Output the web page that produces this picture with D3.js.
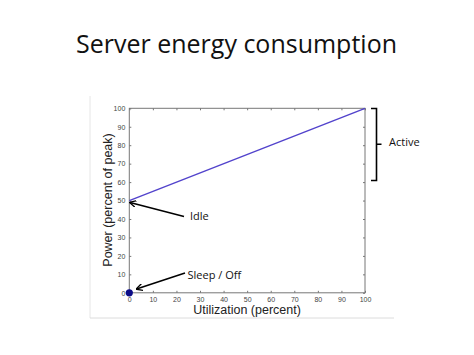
<!DOCTYPE html>
<html><head><meta charset="utf-8">
<script src="https://cdn.jsdelivr.net/npm/d3@7"></script>
<style>html,body{margin:0;padding:0;background:#fff;}</style>
</head><body>
<svg id="c" width="474" height="355"></svg>
<script>
const lineX = [0, 100];
const lineY = [50, 100];
const sleepPoint = [{x: 0, y: 0}];
const xTicks = [0,10,20,30,40,50,60,70,80,90,100];
const yTicks = [0,10,20,30,40,50,60,70,80,90,100];
const titleText = "Server energy consumption";
const xLabel = "Utilization (percent)";
const yLabel = "Power (percent of peak)";

const svg = d3.select("#c");
const L = 129.3, R = 365, T = 108.3, B = 292.8;
const x = d3.scaleLinear().domain([0,100]).range([L,R]);
const y = d3.scaleLinear().domain([0,100]).range([B,T]);

// faint slide frame
svg.append("line").attr("x1",90).attr("x2",90).attr("y1",96).attr("y2",318).attr("stroke","#e6e6e6").attr("stroke-width",1);
svg.append("line").attr("x1",90).attr("x2",394).attr("y1",318).attr("y2",318).attr("stroke","#dcdcdc").attr("stroke-width",1);

// title
svg.append("text").attr("x",76).attr("y",53).attr("font-family","Open Sans").attr("font-size",26)
  .attr("textLength",321).attr("lengthAdjust","spacingAndGlyphs").attr("fill","#111").text(titleText);

// box
svg.append("rect").attr("x",L).attr("y",T).attr("width",R-L).attr("height",B-T)
  .attr("fill","none").attr("stroke","#777").attr("stroke-width",1);

const tickStyle = g => { g.select(".domain").remove(); g.selectAll("line").attr("stroke","#777");
  g.selectAll("text").attr("fill","#444").attr("font-family","Liberation Sans").attr("font-size",7); };
svg.append("g").attr("transform",`translate(0,${B})`).call(d3.axisBottom(x).tickValues(xTicks).tickSizeInner(-2).tickSizeOuter(0).tickPadding(4)).call(tickStyle);
svg.append("g").attr("transform",`translate(0,${T})`).call(d3.axisTop(x).tickValues(xTicks).tickSizeInner(-2).tickSizeOuter(0).tickFormat("")).call(tickStyle);
svg.append("g").attr("transform",`translate(${L},0)`).call(d3.axisLeft(y).tickValues(yTicks).tickSizeInner(-2).tickSizeOuter(0).tickPadding(4)).call(tickStyle);
svg.append("g").attr("transform",`translate(${R},0)`).call(d3.axisRight(y).tickValues(yTicks).tickSizeInner(-2).tickSizeOuter(0).tickFormat("")).call(tickStyle);

// axis labels
svg.append("text").attr("x",247).attr("y",313.5).attr("text-anchor","middle").attr("font-family","Liberation Sans")
  .attr("font-size",12.5).attr("fill","#222").text(xLabel);
svg.append("text").attr("transform","translate(111.5,200) rotate(-90)").attr("text-anchor","middle").attr("font-family","Liberation Sans")
  .attr("font-size",12.5).attr("fill","#222").text(yLabel);

// line
svg.append("path").datum(lineX.map((d,i)=>[d,lineY[i]]))
  .attr("d", d3.line().x(d=>x(d[0])).y(d=>y(d[1])))
  .attr("fill","none").attr("stroke","#5243cc").attr("stroke-width",1.4);

// sleep point
svg.selectAll("circle.pt").data(sleepPoint).enter().append("circle")
  .attr("cx",d=>x(d.x)).attr("cy",d=>y(d.y)).attr("r",3.6).attr("fill","#0b0b86");

// arrows
const defs = svg.append("defs");
defs.append("marker").attr("id","ah").attr("viewBox","0 0 10 10").attr("refX",9).attr("refY",5)
  .attr("markerWidth",7).attr("markerHeight",7).attr("markerUnits","userSpaceOnUse").attr("orient","auto")
  .append("path").attr("d","M0,0 L10,5 L0,10").attr("fill","none").attr("stroke","#000").attr("stroke-width",1.8);
svg.append("line").attr("x1",184).attr("y1",216.5).attr("x2",130).attr("y2",202.5)
  .attr("stroke","#000").attr("stroke-width",1.5).attr("marker-end","url(#ah)");
svg.append("line").attr("x1",185).attr("y1",273).attr("x2",136.5).attr("y2",289)
  .attr("stroke","#000").attr("stroke-width",1.5).attr("marker-end","url(#ah)");

const ann = (t,xx,yy)=>svg.append("text").attr("x",xx).attr("y",yy).attr("font-family","Open Sans")
  .attr("font-size",11).attr("fill","#111").text(t);
ann("Idle",190,219.5);
ann("Sleep / Off",187.5,278.5);
ann("Active",389,146);

// bracket
svg.append("path").attr("d","M371,108.5 H376.5 V180.5 H371 M376.5,144.3 H381.5")
  .attr("fill","none").attr("stroke","#000").attr("stroke-width",1.6);
</script>
</body></html>
